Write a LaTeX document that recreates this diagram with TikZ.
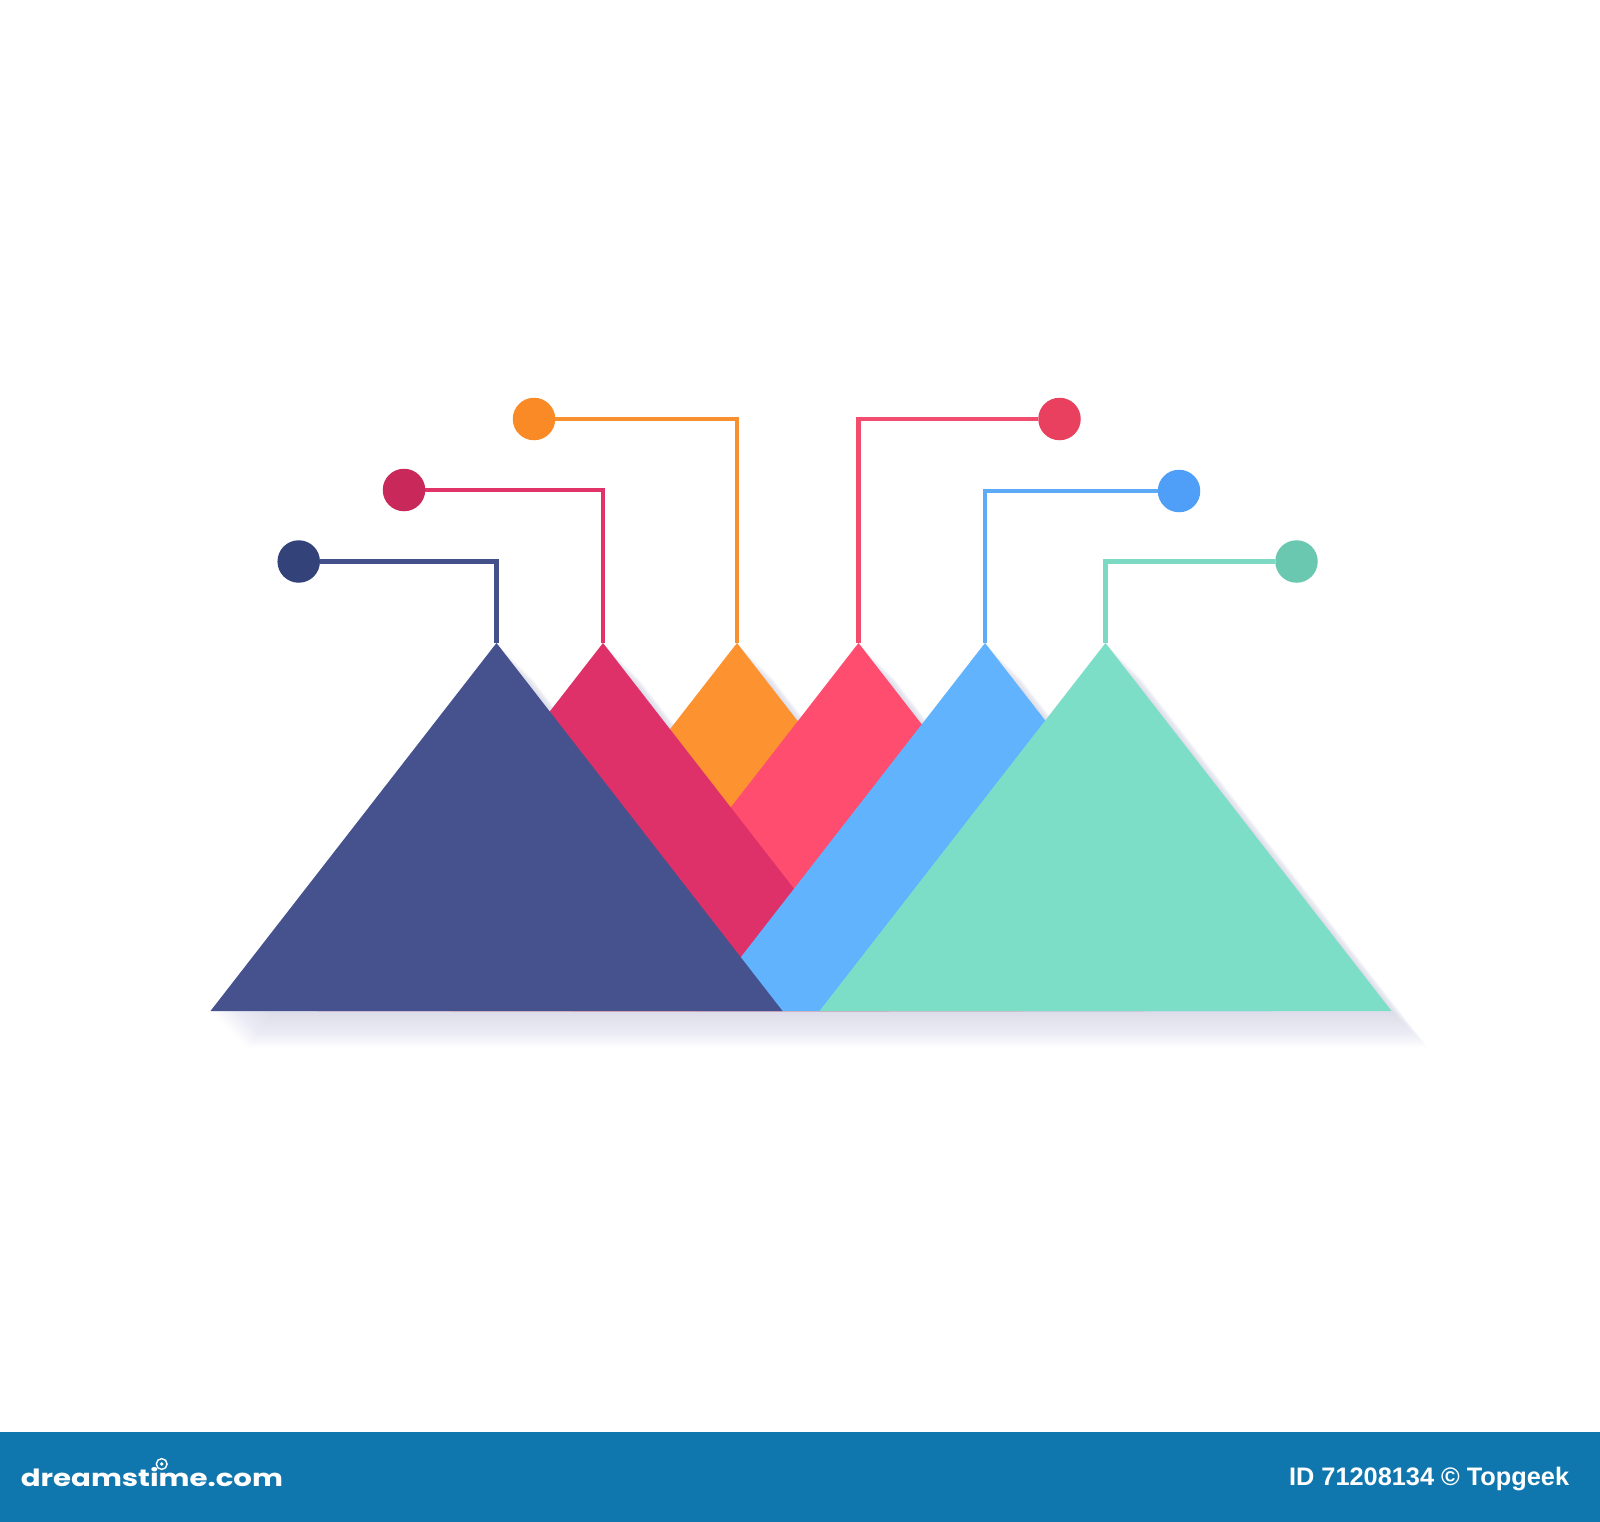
\documentclass[tikz,border=0pt]{standalone}
\usepackage{fontspec}
\usepackage{graphicx}
\newfontfamily\logofont{Poppins}
\newfontfamily\idfont{Liberation Sans}
\definecolor{navyT}{HTML}{46528E}
\definecolor{crimT}{HTML}{DE3169}
\definecolor{oranT}{HTML}{FD9231}
\definecolor{pinkT}{HTML}{FF4D70}
\definecolor{blueT}{HTML}{61B3FD}
\definecolor{greenT}{HTML}{7DDEC8}
\definecolor{navyD}{HTML}{34427A}
\definecolor{crimD}{HTML}{C8285A}
\definecolor{oranD}{HTML}{F98A25}
\definecolor{pinkD}{HTML}{E8405E}
\definecolor{blueD}{HTML}{4F9EF8}
\definecolor{greenD}{HTML}{6BC8B0}
\definecolor{navyL}{HTML}{44508A}
\definecolor{crimL}{HTML}{E03468}
\definecolor{oranL}{HTML}{F99030}
\definecolor{pinkL}{HTML}{F24D6E}
\definecolor{blueL}{HTML}{5DAAF8}
\definecolor{greenL}{HTML}{7CD9C3}
\definecolor{shadowc}{RGB}{200,200,235}
\definecolor{bannerc}{HTML}{1077AE}
\begin{document}
\begin{tikzpicture}[x=1pt,y=-1pt,
  dot/.style={circle, inner sep=0pt, minimum size=42.5pt},
  leader/.style={line width=4.5pt},
  tri/.style={draw=none}]
\useasboundingbox (0,0) rectangle (1600,1522);
\fill[white] (0,0) rectangle (1600,1522);

% apex coordinates
\coordinate (a1) at (496.5,643);
\coordinate (a2) at (603,643);
\coordinate (a3) at (737,643);
\coordinate (a4) at (858.5,643);
\coordinate (a5) at (985,643);
\coordinate (a6) at (1105.5,643);

% soft shadow
\foreach \k in {1,...,24}{
  \fill[shadowc, opacity=0.028, shift={(1.5*\k,1.5*\k)}]
    foreach \a in {496.5,603,737,858.5,985,1105.5} { (\a,643) -- ({\a-286},1011) -- ({\a+286},1011) -- cycle };
}

% leader lines and dots
\node[dot, fill=navyD]  (d1) at (298.7,561.5) {};
\node[dot, fill=crimD]  (d2) at (404,490) {};
\node[dot, fill=oranD]  (d3) at (534,419) {};
\node[dot, fill=pinkD]  (d4) at (1059.5,419) {};
\node[dot, fill=blueD]  (d5) at (1179,491) {};
\node[dot, fill=greenD] (d6) at (1296.5,561.5) {};

\draw[leader, navyL]  (d1) -| (a1);
\draw[leader, crimL]  (d2) -| (a2);
\draw[leader, oranL]  (d3) -| (a3);
\draw[leader, pinkL]  (d4) -| (a4);
\draw[leader, blueL]  (d5) -| (a5);
\draw[leader, greenL] (d6) -| (a6);

% triangles, back to front
\fill[oranT]  (a3) -- ++(-286,368) -- ++(572,0) -- cycle;
\fill[pinkT]  (a4) -- ++(-286,368) -- ++(572,0) -- cycle;
\fill[crimT]  (a2) -- ++(-286,368) -- ++(572,0) -- cycle;
\fill[blueT]  (a5) -- ++(-286,368) -- ++(572,0) -- cycle;
\fill[navyT]  (a1) -- ++(-286,368) -- ++(572,0) -- cycle;
\fill[greenT] (a6) -- ++(-286,368) -- ++(572,0) -- cycle;

% banner
\fill[bannerc] (0,1432) rectangle (1600,1522);
\node[anchor=base west, inner sep=0pt, text=white] (logo) at (20.7,1486.7)
  {\resizebox{262pt}{19pt}{\logofont\bfseries dreamstime.com}};
\draw[white, line width=1.4pt] (161.7,1464) circle (5.4);
\fill[white] (161.7,1464) circle (1.9);
\node[anchor=base east, inner sep=0pt, text=white] (id) at (1569.3,1485.7)
  {\resizebox{280pt}{!}{\idfont\bfseries ID 71208134 © Topgeek}};
\end{tikzpicture}
\end{document}
